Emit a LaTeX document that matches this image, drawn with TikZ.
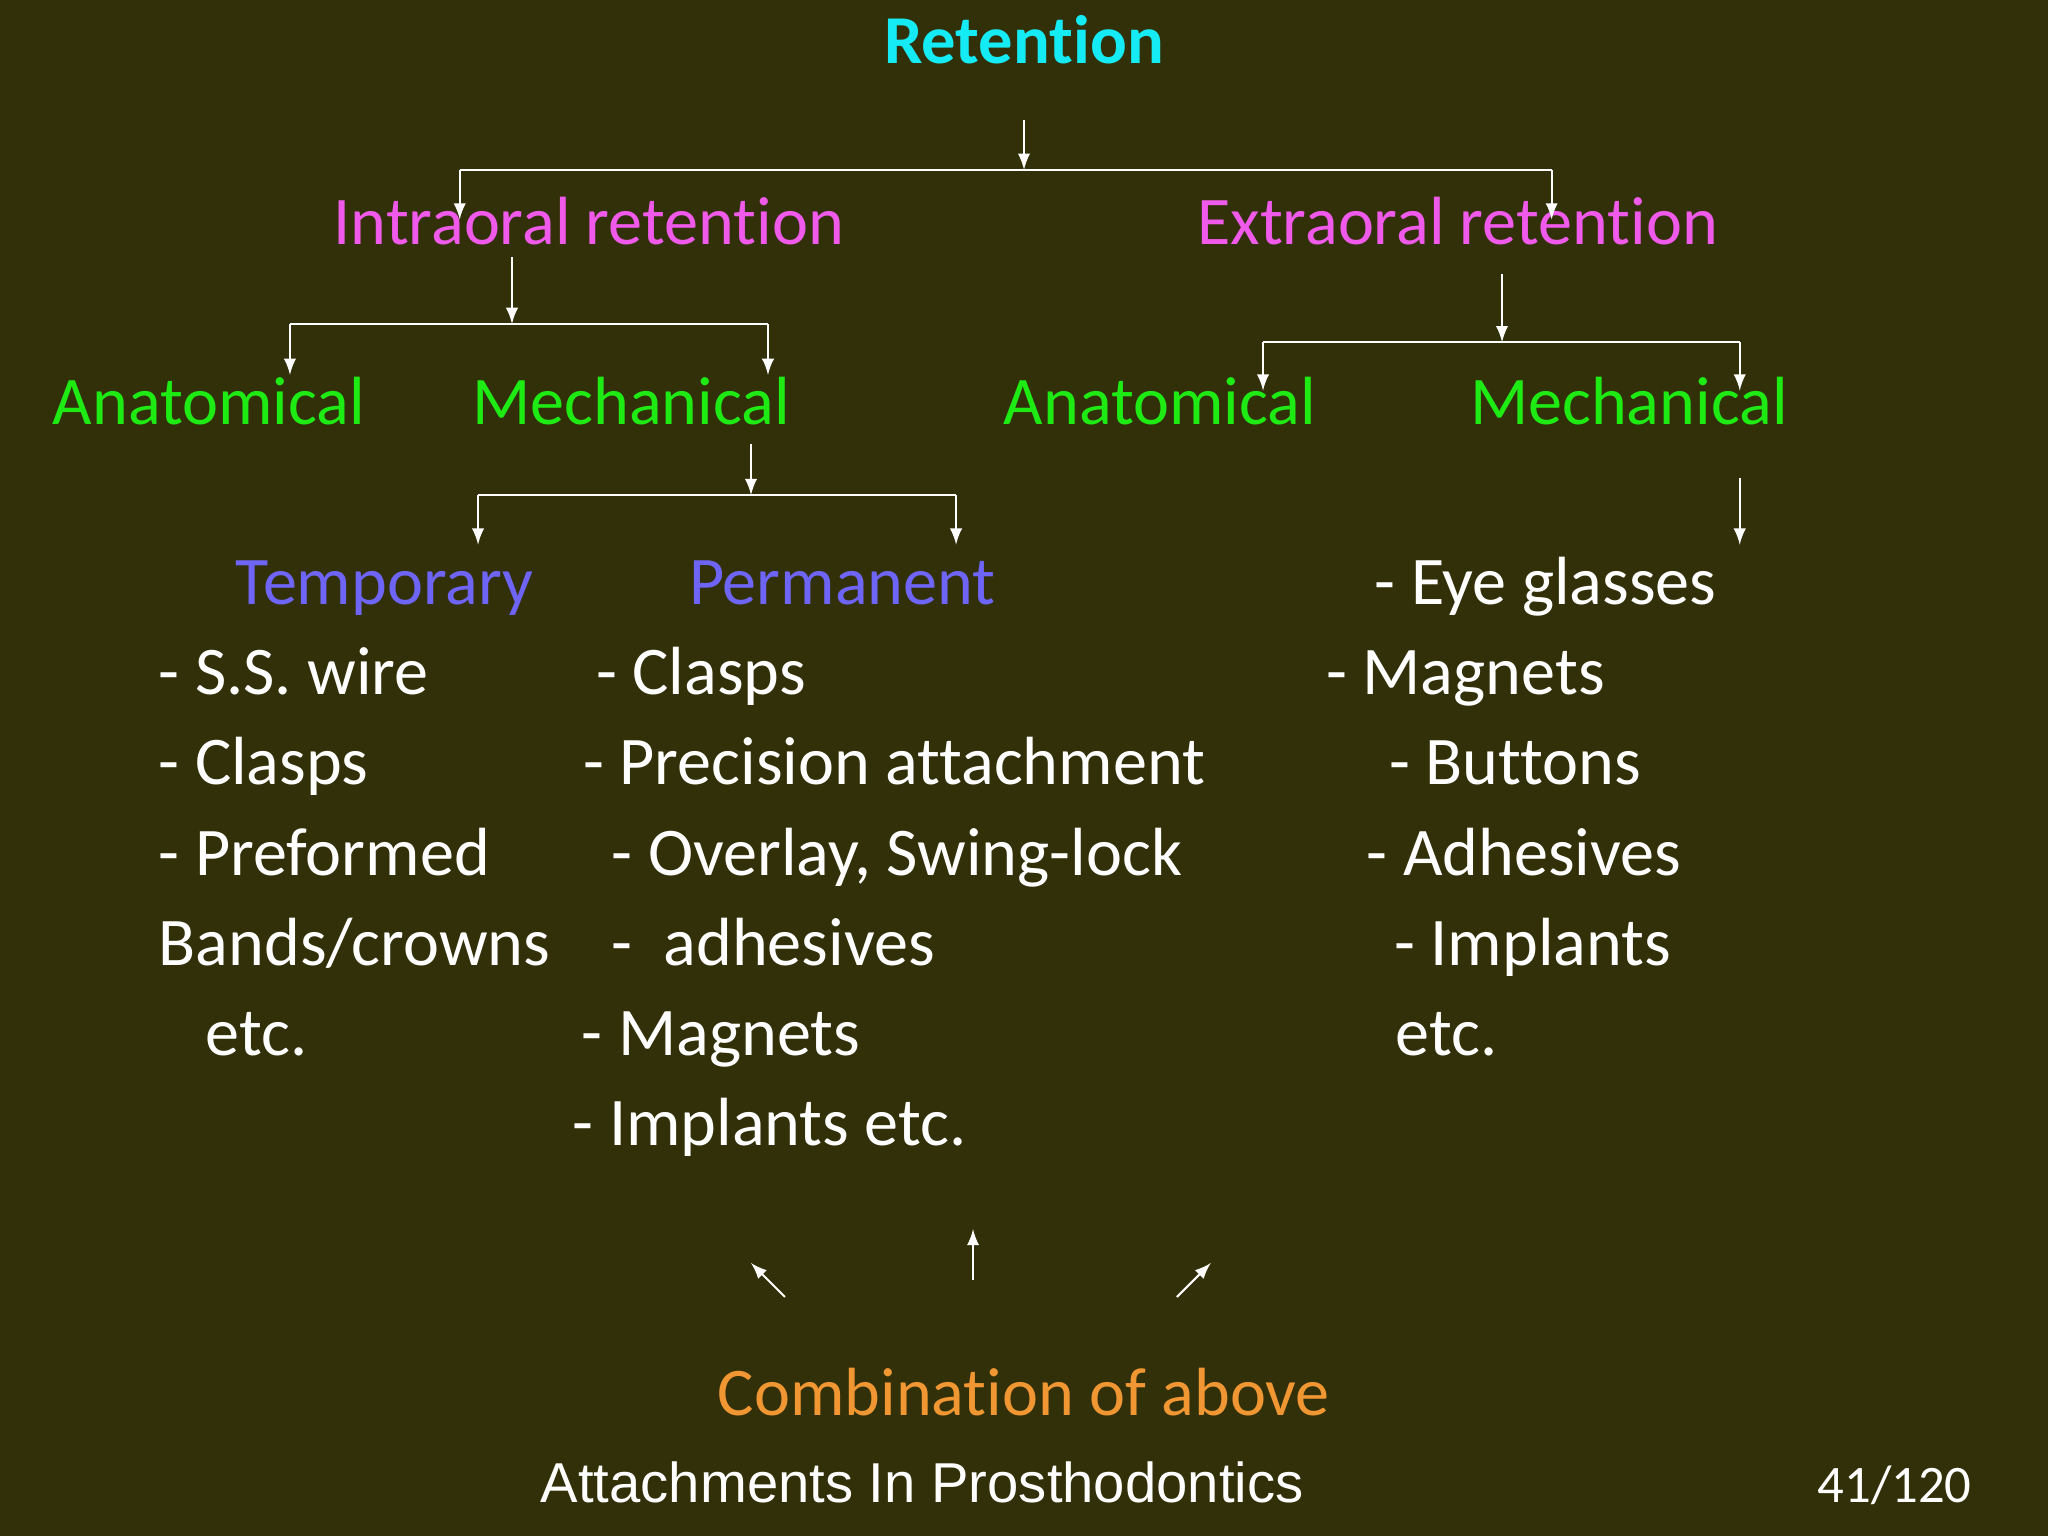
\documentclass[tikz,border=0pt]{standalone}
\usepackage{fontspec}
\setmainfont{Carlito}[RawFeature={-liga;-clig;-dlig}]
\newfontfamily\footfont{Liberation Sans}
\tikzset{>=latex}
\definecolor{bgcol}{RGB}{50,48,8}
\definecolor{cyancol}{RGB}{20,235,245}
\definecolor{magcol}{RGB}{240,90,235}
\definecolor{grncol}{RGB}{30,235,20}
\definecolor{blucol}{RGB}{110,100,245}
\definecolor{orgcol}{RGB}{240,150,50}
\tikzset{
  lbl/.style={anchor=base west,inner sep=0pt,font=\fontsize{19.4}{22}\selectfont},
  itm/.style={lbl,text=white},
  arr/.style={draw=white,line width=0.6pt,->},
  lin/.style={draw=white,line width=0.6pt}
}

\begin{document}
\begin{tikzpicture}[x=0.01306cm,y=-0.01306cm]
\fill[bgcol] (0,0) rectangle (1568,1176);
\useasboundingbox (0,0) rectangle (1568,1176);
\node[lbl,anchor=base,text=cyancol,font=\fontsize{19.5}{22}\selectfont\bfseries] (ret) at (784,49) {Retention};
\node[lbl,text=magcol] (intra) at (255,187) {Intraoral retention};
\node[lbl,text=magcol] (extra) at (916,187) {Extraoral retention};
\node[lbl,text=grncol] (ianat) at (40,325) {Anatomical};
\node[lbl,text=grncol] (imech) at (361,325) {Mechanical};
\node[lbl,text=grncol] (eanat) at (768,325) {Anatomical};
\node[lbl,text=grncol] (emech) at (1125,325) {Mechanical};
\node[lbl,text=blucol] (temp) at (180,463) {Temporary};
\node[lbl,text=blucol] (perm) at (527,463) {Permanent};
% temporary list
\node[itm] (t1) at (121,532) {- S.S. wire};
\node[itm] (t2) at (121,601) {- Clasps};
\node[itm] (t3) at (121,670) {- Preformed};
\node[itm] (t4) at (121,739) {Bands/crowns};
\node[itm] (t5) at (157,808) {etc.};
% permanent list
\node[itm] (p1) at (456,532) {- Clasps};
\node[itm] (p2) at (446,601) {- Precision attachment};
\node[itm] (p3) at (468,670) {- Overlay, Swing-lock};
\node[itm] (p4) at (468,739) {-\ \ adhesives};
\node[itm] (p5) at (445,808) {- Magnets};
\node[itm] (p6) at (438,877) {- Implants etc.};
% extraoral list
\node[itm] (e1) at (1052,463) {- Eye glasses};
\node[itm] (e2) at (1015,532) {- Magnets};
\node[itm] (e3) at (1063,601) {- Buttons};
\node[itm] (e4) at (1046,670) {- Adhesives};
\node[itm] (e5) at (1067,739) {- Implants};
\node[itm] (e6) at (1068,808) {etc.};
\node[lbl,anchor=base,text=orgcol] (comb) at (784,1084) {Combination of above};
\node[lbl,anchor=base,text=white,font=\fontsize{16}{19}\footfont] (foot) at (706,1150) {Attachments In Prosthodontics};
\node[lbl,anchor=base east,text=white,font=\fontsize{15}{18}\selectfont] (page) at (1510,1150) {41/120};
% connectors
\coordinate (r0) at (784,92); \coordinate (r1) at (784,130);
\coordinate (rl) at (352,130); \coordinate (rr) at (1188,130);
\coordinate (rla) at (352,168); \coordinate (rra) at (1188,168);
\draw[arr] (r0) -- (r1);
\draw[lin] (rl) -- (rr);
\draw[arr] (rl) -- (rla);
\draw[arr] (rr) -- (rra);
\coordinate (i0) at (392,197); \coordinate (i1) at (392,248);
\coordinate (il) at (222,248); \coordinate (ir) at (588,248);
\coordinate (ila) at (222,287); \coordinate (ira) at (588,287);
\draw[arr] (i0) -- (i1);
\draw[lin] (il) -- (ir);
\draw[arr] (il) -- (ila);
\draw[arr] (ir) -- (ira);
\coordinate (x0) at (1150,210); \coordinate (x1) at (1150,262);
\coordinate (xl) at (967,262); \coordinate (xr) at (1332,262);
\coordinate (xla) at (967,299); \coordinate (xra) at (1332,299);
\draw[arr] (x0) -- (x1);
\draw[lin] (xl) -- (xr);
\draw[arr] (xl) -- (xla);
\draw[arr] (xr) -- (xra);
\coordinate (m0) at (575,340); \coordinate (m1) at (575,379);
\coordinate (ml) at (366,379); \coordinate (mr) at (732,379);
\coordinate (mla) at (366,417); \coordinate (mra) at (732,417);
\draw[arr] (m0) -- (m1);
\draw[lin] (ml) -- (mr);
\draw[arr] (ml) -- (mla);
\draw[arr] (mr) -- (mra);
\coordinate (e0) at (1332,366); \coordinate (e1a) at (1332,417);
\draw[arr] (e0) -- (e1a);
\coordinate (b1) at (601,993); \coordinate (b1a) at (575,967);
\coordinate (b2) at (745,980); \coordinate (b2a) at (745,941);
\coordinate (b3) at (901,993); \coordinate (b3a) at (927,967);
\draw[arr] (b1) -- (b1a);
\draw[arr] (b2) -- (b2a);
\draw[arr] (b3) -- (b3a);
\end{tikzpicture}
\end{document}
